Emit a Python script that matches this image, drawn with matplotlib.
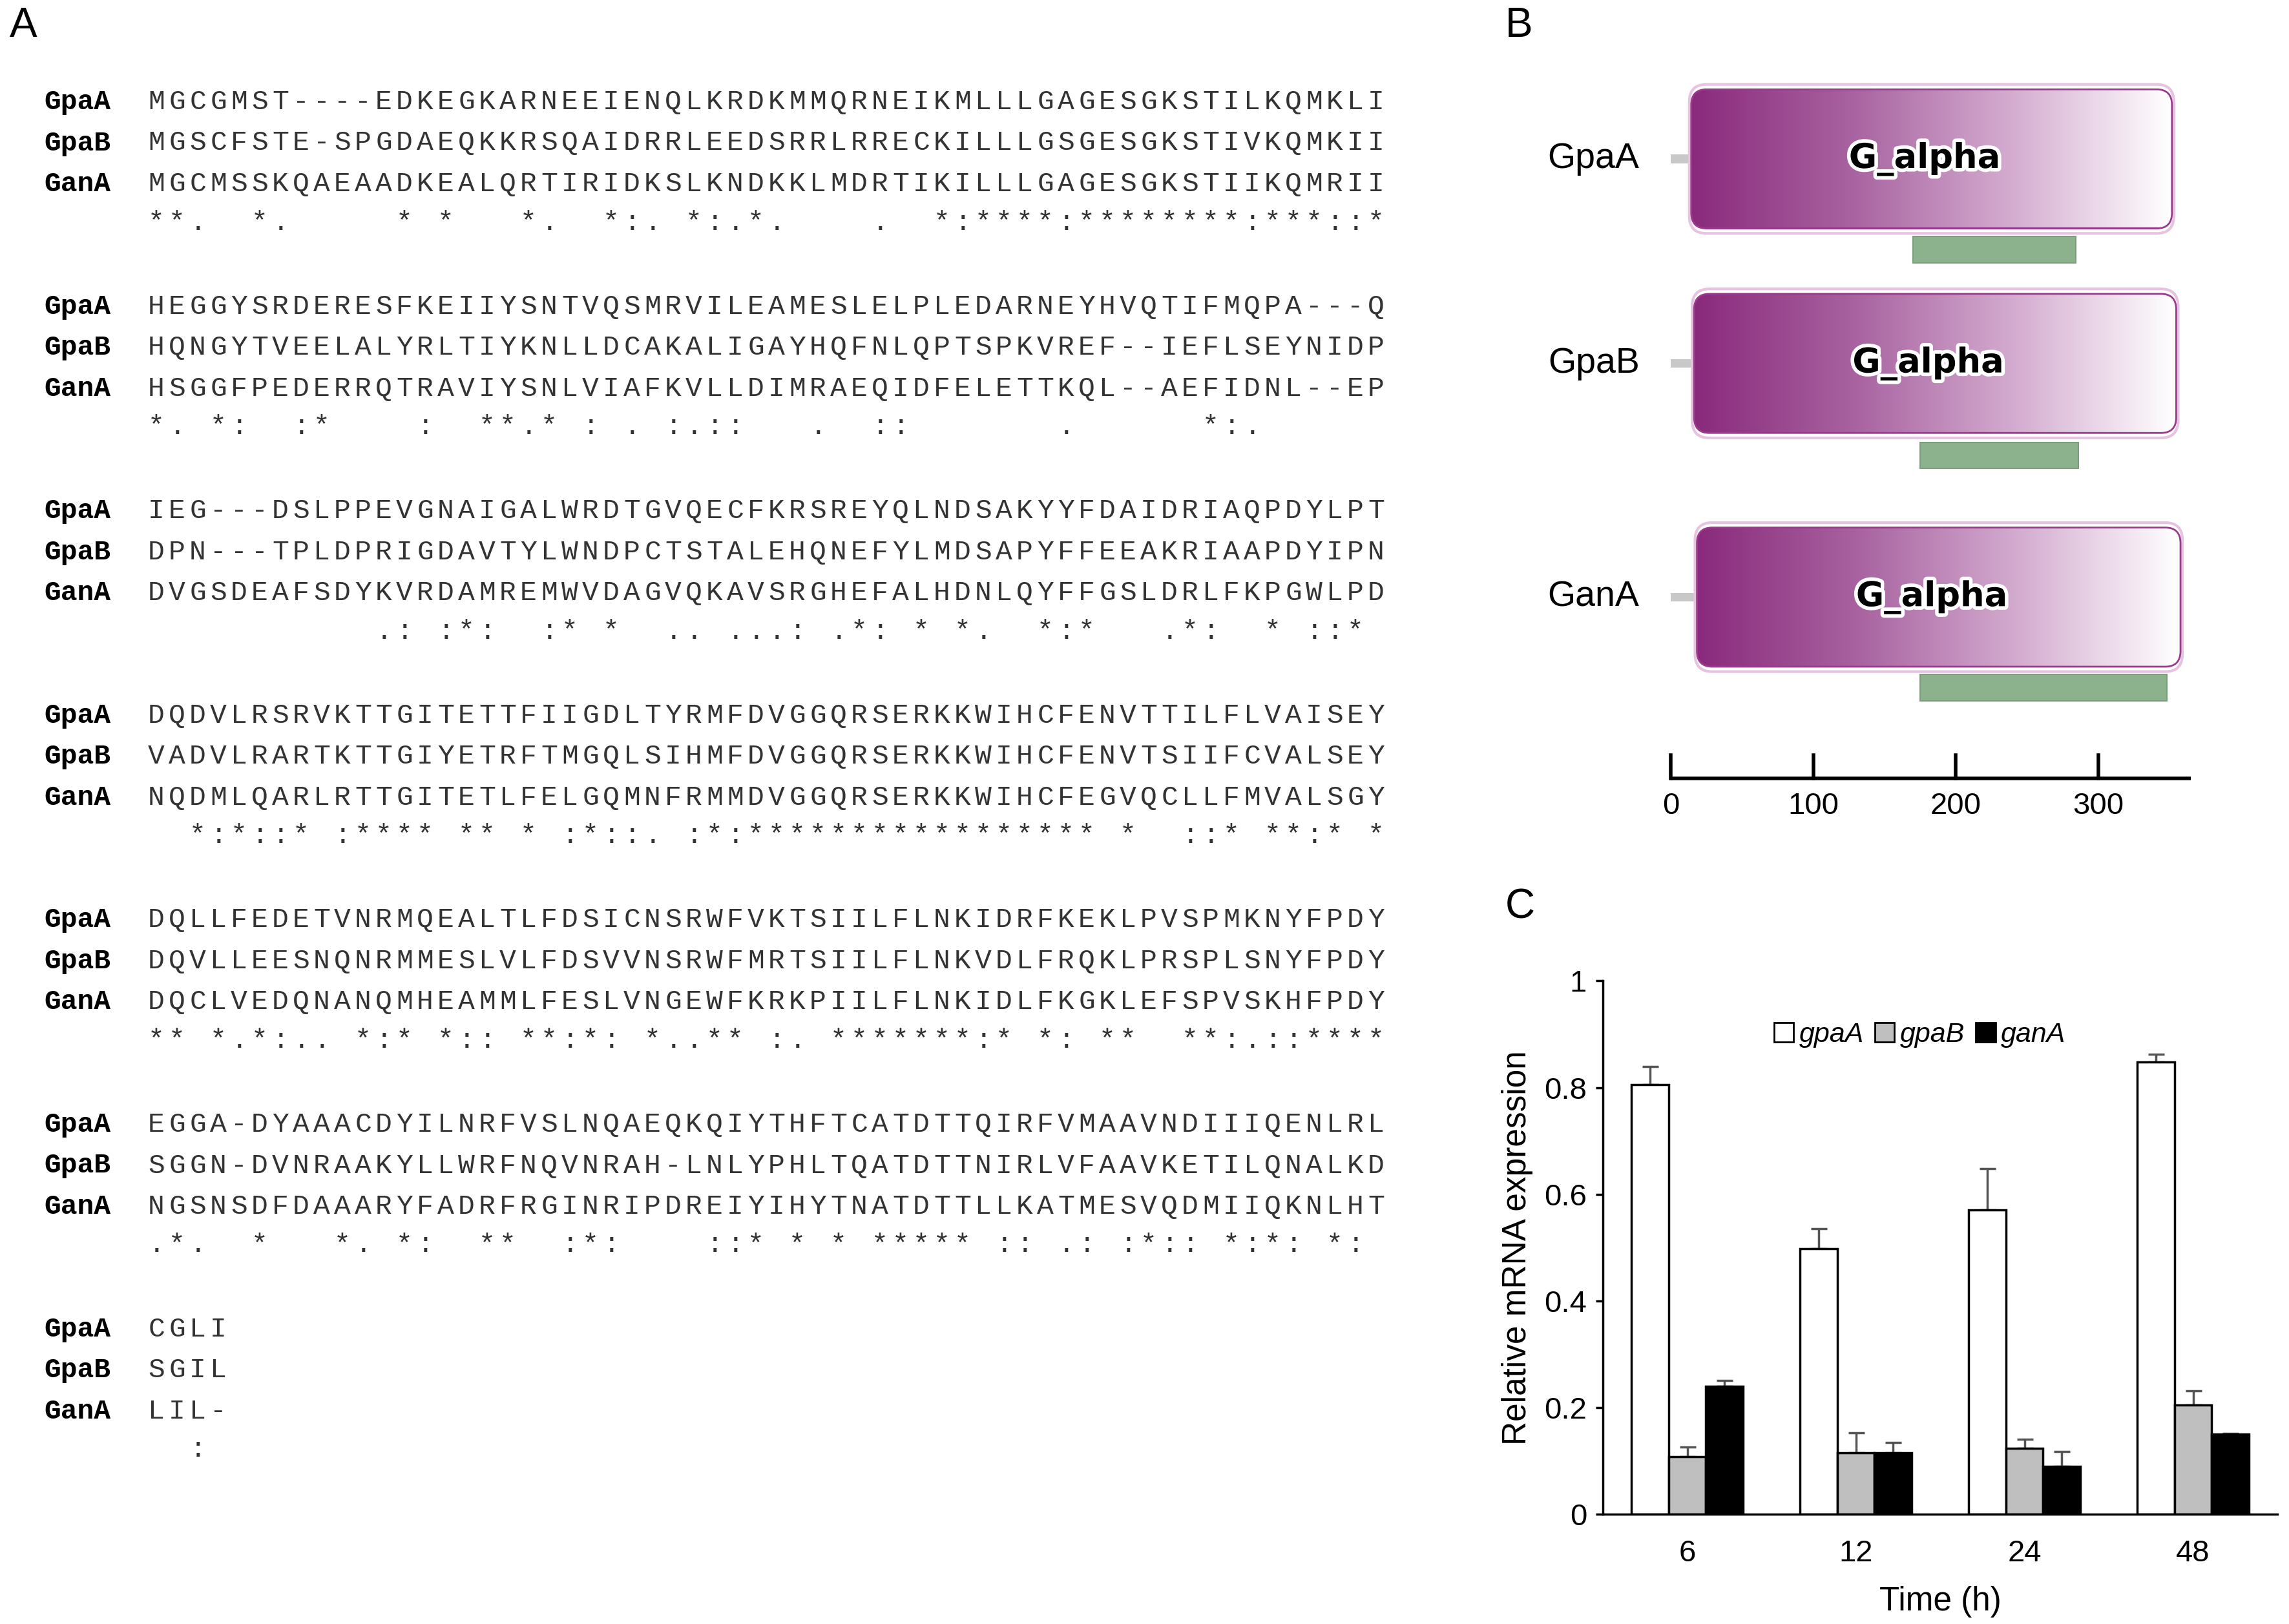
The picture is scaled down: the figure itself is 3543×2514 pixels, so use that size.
import numpy as np
import matplotlib
matplotlib.use("Agg")
import matplotlib.pyplot as plt
from matplotlib.patches import FancyBboxPatch, Rectangle, Patch
import matplotlib.patheffects as pe

# ---------------- data ----------------
names = ["GpaA", "GpaB", "GanA"]
gpaA_blocks = ["MGCGMST----EDKEGKARNEEIENQLKRDKMMQRNEIKMLLLGAGESGKSTILKQMKLI",
               "HEGGYSRDERESFKEIIYSNTVQSMRVILEAMESLELPLEDARNEYHVQTIFMQPA---Q",
               "IEG---DSLPPEVGNAIGALWRDTGVQECFKRSREYQLNDSAKYYFDAIDRIAQPDYLPT",
               "DQDVLRSRVKTTGITETTFIIGDLTYRMFDVGGQRSERKKWIHCFENVTTILFLVAISEY",
               "DQLLFEDETVNRMQEALTLFDSICNSRWFVKTSIILFLNKIDRFKEKLPVSPMKNYFPDY",
               "EGGA-DYAAACDYILNRFVSLNQAEQKQIYTHFTCATDTTQIRFVMAAVNDIIIQENLRL",
               "CGLI"]
gpaB_blocks = ["MGSCFSTE-SPGDAEQKKRSQAIDRRLEEDSRRLRRECKILLLGSGESGKSTIVKQMKII",
               "HQNGYTVEELALYRLTIYKNLLDCAKALIGAYHQFNLQPTSPKVREF--IEFLSEYNIDP",
               "DPN---TPLDPRIGDAVTYLWNDPCTSTALEHQNEFYLMDSAPYFFEEAKRIAAPDYIPN",
               "VADVLRARTKTTGIYETRFTMGQLSIHMFDVGGQRSERKKWIHCFENVTSIIFCVALSEY",
               "DQVLLEESNQNRMMESLVLFDSVVNSRWFMRTSIILFLNKVDLFRQKLPRSPLSNYFPDY",
               "SGGN-DVNRAAKYLLWRFNQVNRAH-LNLYPHLTQATDTTNIRLVFAAVKETILQNALKD",
               "SGIL"]
ganA_blocks = ["MGCMSSKQAEAADKEALQRTIRIDKSLKNDKKLMDRTIKILLLGAGESGKSTIIKQMRII",
               "HSGGFPEDERRQTRAVIYSNLVIAFKVLLDIMRAEQIDFELETTKQL--AEFIDNL--EP",
               "DVGSDEAFSDYKVRDAMREMWVDAGVQKAVSRGHEFALHDNLQYFFGSLDRLFKPGWLPD",
               "NQDMLQARLRTTGITETLFELGQMNFRMMDVGGQRSERKKWIHCFEGVQCLLFMVALSGY",
               "DQCLVEDQNANQMHEAMMLFESLVNGEWFKRKPIILFLNKIDLFKGKLEFSPVSKHFPDY",
               "NGSNSDFDAAARYFADRFRGINRIPDREIYIHYTNATDTTLLKATMESVQDMIIQKNLHT",
               "LIL-"]

domain_start = [14, 16, 18]
domain_end = [352, 355, 358]
hmm_start = [170, 175, 175]
hmm_end = [284, 286, 348]

times = ["6", "12", "24", "48"]
gpaA_val = [0.805, 0.498, 0.570, 0.848]
gpaA_err = [0.035, 0.037, 0.078, 0.015]
gpaB_val = [0.108, 0.115, 0.124, 0.205]
gpaB_err = [0.018, 0.038, 0.017, 0.026]
ganA_val = [0.240, 0.115, 0.090, 0.150]
ganA_err = [0.011, 0.019, 0.027, 0.002]

# ---------------- conservation (Clustal-style groups) ----------------
strong = ["STA", "NEQK", "NHQK", "NDEQ", "QHRK", "MILV", "MILF", "HY", "FYW"]
weak = ["CSA", "ATV", "SAG", "STNK", "SNDEQK", "NDEQHK", "NEQHRK", "FVLIM", "HFY"]


def cons(cols):
    out = ""
    for c in cols:
        s = set(c)
        if "-" in s:
            out += " "
        elif len(s) == 1:
            out += "*"
        elif any(s <= set(g) for g in strong):
            out += ":"
        elif any(s <= set(g) for g in weak):
            out += "."
        else:
            out += " "
    return out


W, H = 3543, 2514
fig = plt.figure(figsize=(W / 100, H / 100), dpi=100)
fig.patch.set_facecolor("white")

# ---------------- panel A ----------------
axA = fig.add_axes([0, 0, 1, 1])
axA.set_xlim(0, W)
axA.set_ylim(H, 0)
axA.axis("off")
axA.text(15, 40, "A", fontsize=46, family="Liberation Sans", va="center")
x0, pitch = 242, 32.0
y0, dy, bstep = 158, 63.5, 316.6
seqfont = dict(family="Liberation Mono", fontsize=31, color="#333333",
               ha="center", va="center")
for b in range(len(gpaA_blocks)):
    rows = [gpaA_blocks[b], gpaB_blocks[b], ganA_blocks[b]]
    yb = y0 + b * bstep
    for r, (nm, seq) in enumerate(zip(names, rows)):
        y = yb + r * dy
        axA.text(68, y, nm, family="Liberation Mono", fontweight="bold",
                 fontsize=31, ha="left", va="center", color="black")
        for i, ch in enumerate(seq):
            axA.text(x0 + i * pitch, y, ch, **seqfont)
    cs = cons(zip(*rows))
    for i, ch in enumerate(cs):
        if ch != " ":
            axA.text(x0 + i * pitch, yb + 3 * dy - 4, ch, **seqfont)

# ---------------- panel B ----------------
axB = fig.add_axes([2350 / W, 1 - 1311 / H, 1070 / W, (1311 - 90) / H])
axB.set_xlim(-107, 378)
axB.set_ylim(580, 40)
axB.axis("off")
fig.text(2330 / W, 1 - 40 / H, "B", fontsize=46, family="Liberation Sans", va="center")
box_y = [(60, 158), (200, 298), (360, 458)]
bar_y = [(162, 180), (303, 321), (462, 480)]
grad = np.linspace(0, 1, 256)[None, :]
cmap = matplotlib.colors.LinearSegmentedColormap.from_list(
    "p", ["#8a2a7c", "#a863a0", "#d4acd0", "#ffffff"])
for k, nm in enumerate(names):
    yt, yb_ = box_y[k]
    xs, xe = domain_start[k], domain_end[k]
    axB.add_patch(Rectangle((0, (yt + yb_) / 2 - 3), xs, 6, color="#c8c8c8", lw=0))
    outer = FancyBboxPatch((xs - 1, yt - 2), xe - xs + 2, yb_ - yt + 4,
                           boxstyle="round,pad=0,rounding_size=12",
                           fc="none", ec="#e6c3e0", lw=3)
    axB.add_patch(outer)
    box = FancyBboxPatch((xs + 1, yt + 2), xe - xs - 2, yb_ - yt - 4,
                         boxstyle="round,pad=0,rounding_size=10",
                         fc="none", ec="#9a3a8c", lw=4)
    axB.add_patch(box)
    im = axB.imshow(grad, cmap=cmap, aspect="auto",
                    extent=(xs + 1, xe - 1, yb_ - 2, yt + 2), zorder=1)
    im.set_clip_path(box)
    axB.text((xs + xe) / 2 - 5, (yt + yb_) / 2, "G_alpha",
             family=["Liberation Sans Narrow", "DejaVu Sans"], fontweight="bold",
             fontsize=38, ha="center", va="center", color="black", zorder=3,
             path_effects=[pe.withStroke(linewidth=8, foreground="white")])
    axB.text(-22, (yt + yb_) / 2, nm, family="Liberation Sans", fontsize=40,
             ha="right", va="center")
    ht, hb = bar_y[k]
    axB.add_patch(Rectangle((hmm_start[k], ht), hmm_end[k] - hmm_start[k], hb - ht,
                            fc="#8bb28c", ec="#7aa07b", lw=1.5, zorder=2))
axB.plot([0, 365], [533, 533], color="black", lw=4, solid_capstyle="butt")
for t in [0, 100, 200, 300]:
    axB.plot([t, t], [533, 517], color="black", lw=4)
    axB.text(t, 552, str(t), fontsize=34, family="Liberation Sans",
             ha="center", va="center")

# ---------------- panel C ----------------
fig.text(2330 / W, 1 - 1405 / H, "C", fontsize=46, family="Liberation Sans", va="center")
axC = fig.add_axes([2481 / W, 0.0676, (3525 - 2481) / W, 0.396 - 0.0676])
x = np.arange(len(times))
bw = 0.222
for off, vals, errs, col in [(-bw, gpaA_val, gpaA_err, "white"),
                             (0, gpaB_val, gpaB_err, "#bfbfbf"),
                             (bw, ganA_val, ganA_err, "black")]:
    axC.bar(x + off, vals, bw, color=col, edgecolor="black", lw=2.5, zorder=2)
    axC.errorbar(x + off, vals, yerr=[np.zeros(len(vals)), errs], fmt="none",
                 ecolor="#555555", elinewidth=2.5, capsize=9, capthick=2.5, zorder=1)
axC.set_xlim(-0.5, 3.5)
axC.set_ylim(0, 1)
axC.set_yticks([0, 0.2, 0.4, 0.6, 0.8, 1])
axC.set_yticklabels(["0", "0.2", "0.4", "0.6", "0.8", "1"])
axC.set_xticks(x)
axC.set_xticklabels(times)
axC.tick_params(axis="x", length=0, pad=28, labelsize=34)
axC.tick_params(axis="y", length=8, width=2.5, labelsize=34, pad=10)
for lab in axC.get_xticklabels() + axC.get_yticklabels():
    lab.set_family("Liberation Sans")
for s in ["top", "right"]:
    axC.spines[s].set_visible(False)
for s in ["left", "bottom"]:
    axC.spines[s].set_linewidth(2.5)
axC.set_xlabel("Time (h)", fontsize=37, family="Liberation Sans", labelpad=20)
axC.set_ylabel("Relative mRNA expression", fontsize=37, family="Liberation Sans", labelpad=12)
handles = [Patch(fc="white", ec="black", lw=2), Patch(fc="#bfbfbf", ec="black", lw=2),
           Patch(fc="black", ec="black", lw=2)]
axC.legend(handles, ["gpaA", "gpaB", "ganA"], ncol=3, frameon=False,
           loc="upper center", bbox_to_anchor=(0.47, 0.97),
           prop=dict(family="Liberation Sans", style="italic", size=31),
           handlelength=0.7, handleheight=0.7, handletextpad=0.2,
           columnspacing=0.4)

fig.savefig("out.png", dpi=100)
